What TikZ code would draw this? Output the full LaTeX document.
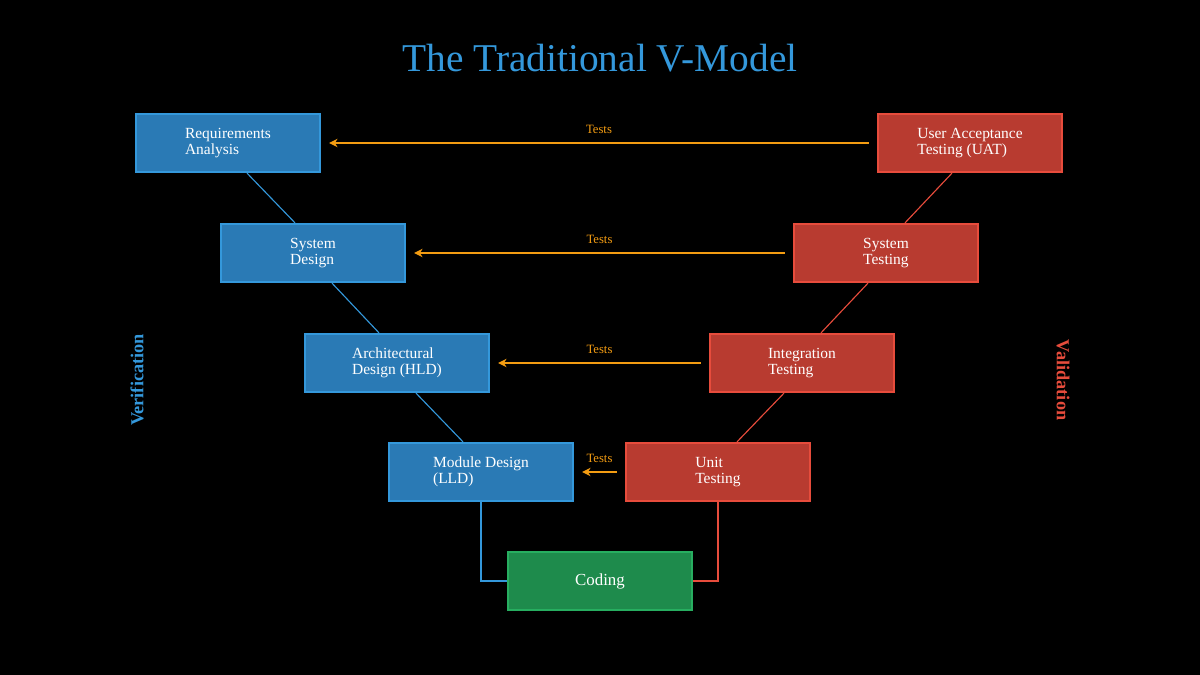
\documentclass[tikz,border=0pt]{standalone}
\usepackage{fontspec}
\setmainfont{Liberation Serif}
\usetikzlibrary{arrows.meta, positioning}
\definecolor{vblue}{HTML}{2A7AB5}
\definecolor{vblueline}{HTML}{3498DB}
\definecolor{vred}{HTML}{B83B30}
\definecolor{vredline}{HTML}{E74C3C}
\definecolor{vgreen}{HTML}{1E8B4C}
\definecolor{vgreenline}{HTML}{27AE60}
\definecolor{vorange}{HTML}{F39C12}
\begin{document}
\begin{tikzpicture}[
  x=0.025cm, y=-0.025cm,
  box/.style={rectangle, draw, line width=1.6pt, minimum width=4.6cm, minimum height=1.45cm, text=white, font=\fontsize{11}{11}\selectfont, align=left},
  left/.style={box, fill=vblue, draw=vblueline},
  right/.style={box, fill=vred, draw=vredline},
  arrow/.style={-{Stealth[length=6pt, width=6pt]}, vorange, line width=0.8pt},
  link/.style={line width=0.8pt},
  lbl/.style={text=vorange, font=\fontsize{9}{9}\selectfont},
]
\fill[black] (0,0) rectangle (1200,675);

\node[text=vblueline, font=\fontsize{28}{28}\selectfont] (title) at (600,58) {The Traditional V-Model};

% Left side
\node[left] (req) at (228,143) {Requirements\\Analysis};
\node[left] (sysd) at (313,253) {System\\Design};
\node[left] (arch) at (397,363) {Architectural\\Design (HLD)};
\node[left] (mod) at (481,472) {Module Design\\(LLD)};

% Bottom
\node[box, fill=vgreen, draw=vgreenline, font=\fontsize{12}{12}\selectfont] (cod) at (600,581) {Coding};

% Right side
\node[right] (uat) at (970,143) {User Acceptance\\Testing (UAT)};
\node[right] (syst) at (886,253) {System\\Testing};
\node[right] (integ) at (802,363) {Integration\\Testing};
\node[right] (unit) at (718,472) {Unit\\Testing};

% Side labels
\node[rotate=90, text=vblueline, font=\fontsize{13}{13}\selectfont\bfseries] (verif) at (137,380) {Verification};
\node[rotate=-90, text=vredline, font=\fontsize{13}{13}\selectfont\bfseries] (valid) at (1063,380) {Validation};

% V links
\draw[link, vblueline] ([xshift=19*0.025cm]req.south) -- ([xshift=-18*0.025cm]sysd.north);
\draw[link, vblueline] ([xshift=19*0.025cm]sysd.south) -- ([xshift=-18*0.025cm]arch.north);
\draw[link, vblueline] ([xshift=19*0.025cm]arch.south) -- ([xshift=-18*0.025cm]mod.north);
\draw[link, vblueline] (mod.south) |- (cod.west);
\draw[link, vredline] ([xshift=-18*0.025cm]uat.south) -- ([xshift=19*0.025cm]syst.north);
\draw[link, vredline] ([xshift=-18*0.025cm]syst.south) -- ([xshift=19*0.025cm]integ.north);
\draw[link, vredline] ([xshift=-18*0.025cm]integ.south) -- ([xshift=19*0.025cm]unit.north);
\draw[link, vredline] (unit.south) |- (cod.east);

% Tests
\draw[arrow] ([xshift=-0.2cm]uat.west) -- node[lbl, above=3pt] {Tests} ([xshift=0.2cm]req.east);
\draw[arrow] ([xshift=-0.2cm]syst.west) -- node[lbl, above=3pt] {Tests} ([xshift=0.2cm]sysd.east);
\draw[arrow] ([xshift=-0.2cm]integ.west) -- node[lbl, above=3pt] {Tests} ([xshift=0.2cm]arch.east);
\draw[arrow] ([xshift=-0.2cm]unit.west) -- node[lbl, above=3pt] {Tests} ([xshift=0.2cm]mod.east);
\end{tikzpicture}
\end{document}
